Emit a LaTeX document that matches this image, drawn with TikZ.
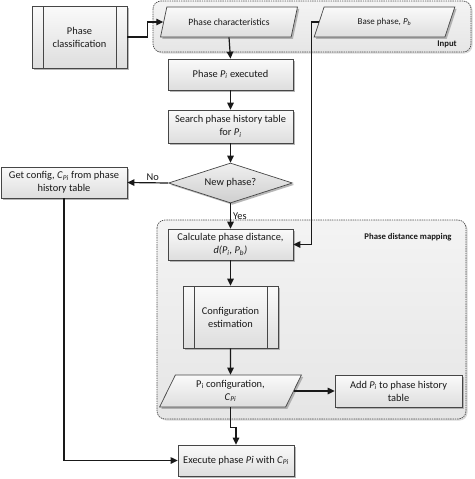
\documentclass[tikz,border=0pt]{standalone}
\usepackage{fontspec}
\setmainfont{Carlito}
\usetikzlibrary{shapes.geometric,shadows,arrows.meta,calc}
\newcommand\Ps[1]{\textit{P}\textsubscript{\textit{#1}}}
\newcommand\Cp{\textit{C}\textsubscript{\textit{Pi}}}
\tikzset{
  basebox/.style={draw=gray!55!black, line width=0.7pt, top color=gray!4, bottom color=gray!26,
    drop shadow={shadow xshift=1.8pt, shadow yshift=-1.8pt, fill=gray!75, opacity=0.75},
    align=center, text=black!90, font=\fontsize{10.4}{13}\selectfont, inner sep=2pt},
  proc/.style={basebox, rectangle, minimum width=125pt, minimum height=31pt},
  subr/.style={basebox, rectangle, minimum width=95pt, minimum height=62pt,
    path picture={
      \draw[gray!55!black, line width=0.7pt]
        ([xshift=11pt]path picture bounding box.south west) -- ([xshift=11pt]path picture bounding box.north west)
        ([xshift=-11pt]path picture bounding box.south east) -- ([xshift=-11pt]path picture bounding box.north east);}},
  iobox/.style={basebox, trapezium, trapezium left angle=68, trapezium right angle=112,
    trapezium stretches=true, minimum height=30pt},
  decis/.style={basebox, diamond, aspect=3.1, inner sep=1pt, minimum width=124pt, minimum height=40pt,
    top color=gray!12, bottom color=gray!38},
  grp/.style={rounded corners=8pt, top color=gray!9, bottom color=gray!20, draw=gray!60!black,
    dash pattern=on 1.4pt off 0.9pt, line width=0.7pt,
    drop shadow={shadow xshift=1.5pt, shadow yshift=-1.5pt, fill=gray!50, opacity=0.6}},
  grplab/.style={font=\bfseries\fontsize{8.7}{10}\selectfont, text=black!90, inner sep=0pt},
  arr/.style={-{Triangle[length=7pt,width=6.5pt]}, line width=1.2pt, draw=black!90},
  elab/.style={font=\fontsize{10.4}{12}\selectfont, text=black!90, inner sep=2pt}
}
\begin{document}
\begin{tikzpicture}[x=1pt,y=-1pt]
\useasboundingbox (0,0) rectangle (474,479);
% groups
\path[grp] (153,1) rectangle (471,52);
\node[grplab] (inlab) at (447,44) {Input};
\path[grp] (157,220) rectangle (466,419);
\node[grplab] (pdmlab) at (408,237) {Phase distance mapping};
% nodes
\node[subr] (pc) at (79.5,37) {Phase\\classification};
\node[iobox, minimum width=138pt, font=\fontsize{9.6}{11}\selectfont] (pchar) at (229,22) {Phase characteristics};
\node[iobox, minimum width=141pt, font=\fontsize{9}{11}\selectfont] (bp) at (384.5,22) {Base phase, \Ps{b}};
\node[proc] (ex) at (230.5,74.5) {Phase \Ps{i} executed};
\node[proc, minimum height=33pt] (srch) at (230.5,126.5) {Search phase history table\\for \Ps{i}};
\node[decis] (dia) at (230.5,183) {New phase?};
\node[proc, minimum width=126pt] (get) at (64,182.5) {Get config, \Cp{} from phase\\history table};
\node[proc] (calc) at (230.5,244.5) {Calculate phase distance,\\\textit{d(P\textsubscript{i}, P\textsubscript{b})}};
\node[subr] (conf) at (230.5,317) {Configuration\\estimation};
\node[iobox, minimum width=142pt, minimum height=32pt] (pconf) at (230.5,391) {P\textsubscript{i} configuration,\\\Cp};
\node[proc, minimum width=127pt, minimum height=32pt] (add) at (398.5,391) {Add \Ps{i} to phase history\\table};
\node[proc, minimum width=116pt] (exe) at (236,460.5) {Execute phase \textit{Pi} with \Cp};
% connectors
\draw[arr] (pc.east) -- ++(20,0) |- (pchar.left side);
\draw[arr] (pchar.south) -- (ex.north);
\draw[arr] (ex.south) -- (srch.north);
\draw[arr] (srch.south) -- (dia.north);
\draw[arr] (dia.west) -- node[elab, above, pos=0.38] {No} (get.east);
\draw[arr] (dia.south) -- node[elab, right] {Yes} (calc.north);
\draw[arr] (bp.left side) -- ++(-7,0) |- (calc.east);
\draw[arr] (calc.south) -- (conf.north);
\draw[arr] (conf.south) -- (pconf.north);
\draw[arr] (pconf.right side) -- (add.west);
\draw[arr] (pconf.south) -- ++(0,20) -| (exe.north);
\draw[arr] (get.south) |- (exe.west);
\end{tikzpicture}
\end{document}
